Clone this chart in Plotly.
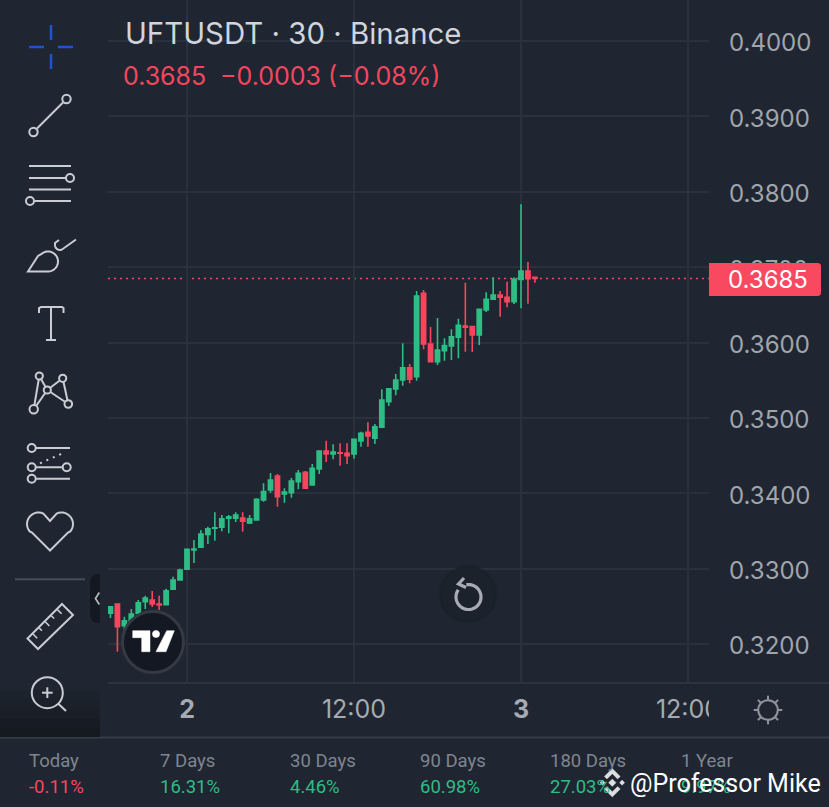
import math
import plotly.graph_objects as go

# ---------- data ----------
bar_index = list(range(-11, 51))
opens = [.32407,.32531,.32243,.32305,.32407,.32561,.32584,.32531,.32521,.32726,.32849,
         .32991,.33247,.33283,.33455,.33535,.33548,.33668,.33668,.33672,.33605,.33645,.3391,
         .34043,.34229,.3399,.34007,.34153,.34278,.34109,.34322,.34561,.34521,.34538,.3453,
         .34521,.34693,.34809,.34729,.34875,.35215,.35383,.35502,.35666,.35546,.36653,.3598,
         .35745,.35891,.35954,.36069,.36219,.3621,.36099,.36431,.36573,.3663,.366,.36541,
         .36838,.36949,.36865]
highs = [.32495,.32537,.32362,.32464,.32584,.32641,.32703,.32641,.32734,.32893,.32999,
         .3326,.3338,.33512,.33556,.33747,.33711,.33711,.33747,.33747,.33711,.33933,.34132,
         .34269,.34255,.34066,.34202,.34308,.34295,.34388,.34561,.34697,.34649,.34663,.34663,
         .34724,.34817,.34941,.34919,.35379,.3539,.35582,.35989,.35715,.36683,.36696,.36206,
         .36325,.36056,.36175,.36316,.36793,.36215,.36444,.36666,.36865,.36683,.36807,.36865,
         .37834,.37068,.36865]
lows = [.32345,.31898,.32159,.32252,.32371,.32464,.32491,.32451,.32517,.32723,.32842,
        .32988,.33075,.3328,.33327,.3337,.33495,.33469,.33619,.3349,.33592,.33636,.33888,
        .34007,.33822,.33875,.33941,.34052,.3406,.34105,.34255,.34415,.3445,.34366,.34388,
        .34458,.34618,.34618,.34653,.3487,.35158,.353,.35427,.35459,.35493,.3591,.35741,
        .35701,.35759,.35768,.3579,.35878,.35874,.35967,.36405,.36568,.36342,.36467,.36511,
        .36454,.36515,.36793]
closes = [.32495,.3223,.32309,.32398,.32548,.3261,.32531,.32517,.32707,.32849,.32982,
          .33256,.3326,.33459,.3353,.33543,.33662,.33689,.33711,.33628,.33662,.3392,.34021,
          .34176,.33954,.34017,.34163,.34265,.34066,.34331,.34561,.34521,.34547,.3453,.34498,
          .34716,.34795,.3476,.34883,.35237,.35387,.35502,.35666,.35512,.36617,.3598,.35745,
          .359,.35958,.36077,.36228,.36202,.36099,.3644,.36573,.3663,.366,.36541,.36838,
          .36949,.36846,.3685]
price_ticks = [.32,.33,.34,.35,.36,.37,.38,.39,.40]
time_ticks = [0, 24, 48, 72]
time_labels = ["<b>2</b>", "12:00", "<b>3</b>", "12:00"]
title_text = "UFTUSDT · 30 · Binance"
last_price = "0.3685"
last_change = "−0.0003 (−0.08%)"
stat_names = ["Today", "7 Days", "30 Days", "90 Days", "180 Days", "1 Year"]
stat_values = ["-0.11%", "16.31%", "4.46%", "60.98%", "27.03%", "9.97%"]
stat_colors = ["#F6465D", "#2EBD85", "#2EBD85", "#2EBD85", "#2EBD85", "#2EBD85"]

# ---------- style ----------
W, H = 829, 807
L, R, T, B = 108, 709, 0, 683
BG = "#1F2631"
GRID = "#2A313C"
GREEN = "#2EBD85"
RED = "#F6465D"
ICON = "#C9CCD3"
FONT = "Roboto"
WIDE = "Inter"

def px(x): return (x - L) / (R - L)
def py(y): return (B - y) / (B - T)
def P(points, close=False):
    s = "M" + " L".join(f"{px(a):.5f},{py(b):.5f}" for a, b in points)
    return s + (" Z" if close else "")
def arc(cx, cy, r, a0, a1, n=40):
    return [(cx + r*math.cos(math.radians(a0+(a1-a0)*i/n)),
             cy + r*math.sin(math.radians(a0+(a1-a0)*i/n))) for i in range(n+1)]
shapes = []
def path(points, color=ICON, w=2, close=False, fill=None, dash=None):
    ln = dict(color=color, width=w)
    if dash: ln["dash"] = dash
    shapes.append(dict(type="path", path=P(points, close), xref="paper", yref="paper",
                       line=ln, fillcolor=fill or "rgba(0,0,0,0)", layer="above"))
def circle(cx, cy, r, color=ICON, w=2, fill=None):
    shapes.append(dict(type="circle", xref="paper", yref="paper",
                       x0=px(cx-r), x1=px(cx+r), y0=py(cy+r), y1=py(cy-r),
                       line=dict(color=color, width=w), fillcolor=fill or "rgba(0,0,0,0)", layer="above"))
def rect(x0, y0, x1, y1, fill, line=None):
    shapes.append(dict(type="rect", xref="paper", yref="paper",
                       x0=px(x0), x1=px(x1), y0=py(y1), y1=py(y0),
                       line=dict(width=0, color=fill), fillcolor=fill, layer="above"))

# clip of the last time label + bottom rules
rect(709, 684, 829, 736, BG)
path([(108, 683), (829, 683)], "#2D343F", 2)
path([(0, 737.5), (829, 737.5)], "#353C47", 2)

# gradient behind magnifier
for i, c in enumerate(["#1D232D", "#1B212A", "#191E27", "#171C24", "#151A21"]):
    rect(0, 690 + i*9.5, 100, 737, c)

# crosshair
BLUE = "#1E53D6"
for seg in [[(51,25),(51,40)],[(51,54),(51,69)],[(29,47),(44,47)],[(58,47),(73,47)]]:
    path(seg, BLUE, 2.5)
# trend line
path([(37,128.5),(63,102.5)]); circle(66.5,99,4.2); circle(33.5,132,4.2)
# fib
path([(29,166),(71,166)]); path([(29,178),(66,178)]); circle(70,178,4)
path([(29,189.5),(71,189.5)]); path([(34.5,201),(71,201)]); circle(30,201,4)
# brush
path(arc(48,261.5,10,-130,85)+[(44,271.5),(28,271.5),(38,256)], close=True)
path([(59,240),(55,243)]+arc(60,245,5,180,70,10)+[(76,239.5)])
# T
path([(39,313),(39,308),(41,307),(62,307),(63.5,308),(63.5,313)])
path([(51,307),(51,340)]); path([(46,340),(56,340)])
# pattern
nodes = [(39.3,376),(62.7,378.3),(47.3,390),(33.7,409.3),(68.3,404)]
for a, b in [(0,3),(0,2),(2,3),(2,4),(1,2),(1,4)]:
    path([nodes[a], nodes[b]])
for (a, b), r in zip(nodes, [3.6,3.6,3.6,4.2,3.8]):
    circle(a, b, r, fill=BG)
# fib channel
path([(35.5,448),(70,448)]); circle(31.7,448,4)
path([(31.7,467.3),(66.7,467.3)]); circle(31.7,467.3,4, fill=BG); circle(66.7,467.3,4, fill=BG)
path([(35.5,478.7),(70,478.7)]); circle(31.7,478.7,4)
path([(40,463.3),(65,452.3)], w=2, dash="2px,5px")
# heart
heart = [(50,550.5),(32,532.5)] + arc(38.5,524,11.5,140,295,14) + [(50,521)] + arc(61.5,524,11.5,245,400,14) + [(68,532.5)]
path(heart, close=True)
# separator + collapse tab
path([(15,579.3),(85,579.3)], "#474D57", 2)
shapes.append(dict(type="path", path=P([(100,574)]+arc(98,582,8,-90,-180,6)+arc(98,615,8,180,90,6)+[(100,623)], True),
                   xref="paper", yref="paper", line=dict(width=0, color="#141822"), fillcolor="#141822", layer="above"))
path([(99.3,592.5),(95.5,598.5),(99.3,604.5)], "#B0B4BC", 1.8)
# ruler
path([(62,604),(73,615),(38,649),(27.5,638.5)], close=True)
for i in range(5):
    x0 = 33 + i*6.1; y0 = 634 - i*6.1
    ln = 6 if i % 2 == 0 else 4
    path([(x0, y0), (x0 + ln*0.7, y0 + ln*0.7)], w=1.6)
# magnifier
circle(47.3,692.7,15.5); path([(42,692.7),(52.7,692.7)]); path([(47.3,687.3),(47.3,698)])
path([(58.3,703.7),(66,711)])
# gear
circle(768,710,9.8,"#8E939C",2)
for k in range(8):
    a = math.radians(k*45)
    path([(768+9.8*math.cos(a),710+9.8*math.sin(a)),(768+14.3*math.cos(a),710+14.3*math.sin(a))],"#8E939C",2)
# TV logo
circle(153,642,30.5,"#343943",3,"#141822")
path([(132.7,630.7),(150,630.7),(150,651.7),(141.7,651.7),(141.7,637.7),(132.7,637.7)],"#FFFFFF",0.5,True,"#FFFFFF")
circle(156,634,3.6,"#FFFFFF",0.5,"#FFFFFF")
path([(166.7,630.7),(174.3,630.7),(166,651.7),(156,651.7)],"#FFFFFF",0.5,True,"#FFFFFF")
# reload button
circle(468,594,28,"rgba(20,24,32,0.2)",3,"#1C222C")
path(arc(468.5,597,12.5,-100,215),"#A7ABB4",3.2)
path([(464,578),(458.5,584),(466,587.5)],"#A7ABB4",3.2)
# price tag
shapes.append(dict(type="path", path=P([(709,263)]+arc(818,266,3,-90,0,4)+arc(818,293,3,0,90,4)+[(709,296)], True),
                   xref="paper", yref="paper", line=dict(width=0, color="#F84960"), fillcolor="#F84960", layer="above"))
# last price line
shapes.append(dict(type="line", xref="paper", yref="y", x0=0, x1=1, y0=closes[-1], y1=closes[-1],
                   line=dict(color=RED, width=1.5, dash="2px,4px"), layer="between"))
# binance watermark mark
WM = "rgba(255,255,255,0.85)"
cx, cy = 612.3, 782.7
def diamond(x, y, r): path([(x,y-r),(x+r,y),(x,y+r),(x-r,y)], WM, 0.3, True, WM)
diamond(cx, cy, 3.8); diamond(cx-9.8, cy, 2.6); diamond(cx+9.8, cy, 2.6)
for s in (-1, 1):
    path([(cx-8,cy+s*6.3),(cx,cy+s*14.3),(cx+8,cy+s*6.3),(cx+5.3,cy+s*3.8),(cx,cy+s*9),(cx-5.3,cy+s*3.8)], WM, 0.3, True, WM)

# ---------- text ----------
ann = []
def text(x, y, s, size, color, anchor="left", font=FONT):
    ann.append(dict(text=s, x=px(x), y=py(y), xref="paper", yref="paper", xanchor=anchor, yanchor="middle",
                    showarrow=False, font=dict(size=size, color=color, family=font), borderpad=0, borderwidth=0))
text(125, 33, title_text, 29.4, "#D1D4DC", font=WIDE)
text(123, 76, last_price, 25, RED, font=WIDE)
text(220, 76, last_change, 25, RED, font=WIDE)
text(768, 279.5, last_price, 24, "#FFFFFF", "center", font=WIDE)
for x0, n, v, c in zip([29,160,290,420,550,681], stat_names, stat_values, stat_colors):
    text(x0, 761, n, 18.5, "#7F8590")
    text(x0, 787, v, 18.5, c)
text(630, 783, "@Professor Mike", 25, "#FFFFFF")

# ---------- figure ----------
fig = go.Figure(go.Candlestick(
    x=bar_index, open=opens, high=highs, low=lows, close=closes,
    increasing=dict(line=dict(color=GREEN, width=1.6), fillcolor=GREEN),
    decreasing=dict(line=dict(color=RED, width=1.6), fillcolor=RED),
    whiskerwidth=0, showlegend=False,
))
x_per_px = 24 / 167.0
price_per_px = 0.08 / 603.0
fig.update_layout(
    width=W, height=H, autosize=False,
    margin=dict(l=L, r=W-R, t=T, b=H-B, pad=0),
    paper_bgcolor=BG, plot_bgcolor=BG, boxgap=0.14, showlegend=False,
    font=dict(family=FONT),
    shapes=shapes, annotations=ann,
    xaxis=dict(range=[(L-187)*x_per_px, (R-187)*x_per_px], rangeslider=dict(visible=False),
               tickmode="array", tickvals=time_ticks, ticktext=time_labels,
               showgrid=True, gridcolor=GRID, gridwidth=2, zeroline=False, showline=False,
               ticks="", ticklabelstandoff=9, tickangle=0, ticklabeloverflow="allow",
               tickfont=dict(size=25, color="#A6AAB2", family=WIDE)),
    yaxis=dict(range=[0.32-(B-644)*price_per_px, 0.32+(644-T)*price_per_px], side="right",
               tickmode="array", tickvals=price_ticks, tickformat=".4f",
               showgrid=True, gridcolor=GRID, gridwidth=2, zeroline=False, showline=False,
               ticks="", ticklabelstandoff=19, ticklabelshift=2,
               tickfont=dict(size=24, color="#A0A5AD", family=WIDE)),
)
fig.write_html("out.html", config=dict(displayModeBar=False),
               post_script="document.body.style.margin='0';document.body.style.background='#1F2631';")
